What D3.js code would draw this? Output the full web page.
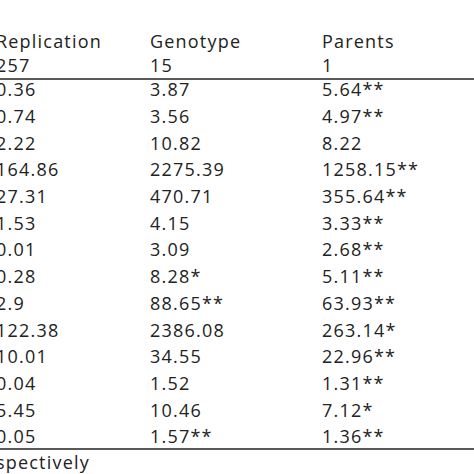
<!DOCTYPE html>
<html><head><meta charset="utf-8">
<script src="https://cdn.jsdelivr.net/npm/d3@7"></script>
<style>body{margin:0;background:#fff}</style></head>
<body><svg id="c" width="474" height="474"></svg>
<script>
const headers = ["Replication", "Genotype", "Parents"];
const dfRow = ["257", "15", "1"];
const replication = ["0.36","0.74","2.22","164.86","27.31","1.53","0.01","0.28","2.9","122.38","10.01","0.04","5.45","0.05"];
const genotype = ["3.87","3.56","10.82","2275.39","470.71","4.15","3.09","8.28*","88.65**","2386.08","34.55","1.52","10.46","1.57**"];
const parents = ["5.64**","4.97**","8.22","1258.15**","355.64**","3.33**","2.68**","5.11**","63.93**","263.14*","22.96**","1.31**","7.12*","1.36**"];
const footnote = "spectively";

const svg = d3.select("#c");
const colX = d3.scaleOrdinal().domain([0,1,2]).range([-4, 150, 322]);
const rowY = d3.scaleLinear().domain([0, 13]).range([90, 437]);
const font = "'Open Sans', sans-serif", fs = 18, col = "#222";
function put(x, y, t){ svg.append("text").attr("x",x).attr("y",y).attr("dy","0.35em")
  .attr("font-family",font).attr("font-size",fs).attr("letter-spacing","1.2px").attr("fill",col).text(t); }
headers.forEach((h,i)=>put(colX(i), 42, h));
dfRow.forEach((h,i)=>put(colX(i), 66, h));
[replication, genotype, parents].forEach((arr,c)=>arr.forEach((v,r)=>put(colX(c), rowY(r), v)));
svg.append("line").attr("x1",0).attr("x2",474).attr("y1",79).attr("y2",79).attr("stroke","#222").attr("stroke-width",1.3);
svg.append("line").attr("x1",0).attr("x2",474).attr("y1",449).attr("y2",449).attr("stroke","#222").attr("stroke-width",1.3);
put(-4, 463, footnote);
</script></body></html>
